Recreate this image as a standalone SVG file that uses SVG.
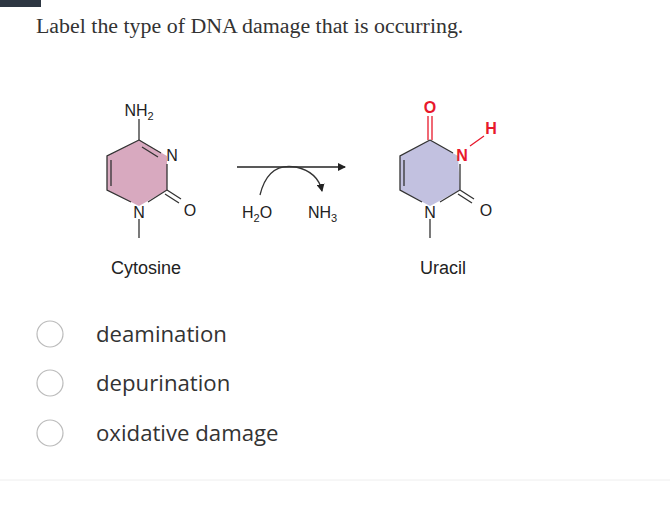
<svg xmlns="http://www.w3.org/2000/svg" width="670" height="506" viewBox="0 0 670 506">
<style>
.b{stroke:#333;stroke-width:1.3;fill:none}
.t{font-family:"Liberation Sans",Arial,sans-serif;font-size:16px;fill:#222}
.r{fill:#e8192c}
.opt{font-family:"Open Sans","Liberation Sans",sans-serif;font-size:22.2px;fill:#333}
.rad{fill:#fff;stroke:#bbb;stroke-width:1.2}
.lab{font-family:"Liberation Sans",Arial,sans-serif;font-size:18px;fill:#222}
</style>
<defs><marker id="ah" markerWidth="8" markerHeight="8" refX="7" refY="4" orient="auto" markerUnits="userSpaceOnUse"><path d="M0,0 L8,4 L0,8 Z" fill="#222"/></marker></defs>
<rect width="670" height="506" fill="#fff"/>
<rect x="0" y="0" width="41" height="7" fill="#2d3742"/>
<text x="36" y="33" font-family="Liberation Serif,serif" font-size="21.9" fill="#333">Label the type of DNA damage that is occurring.</text>
<g id="cytosine">
<polygon points="139,140 167,156 167,190 139,206 107,190 107,156" fill="#d8a9bf"/>
<path class="b" d="M139,140 L161,153 M167,164 L167,190 L148,202 M131,202 L107,190 L107,156 L139,140 M111,160 L111,186 M158,157 L142,147"/>
<path class="b" d="M139,140 V119 M167,190 L181,199 M165,194 L179,203 M139,219 V238"/>
<text class="t" x="139" y="116" text-anchor="middle">NH<tspan font-size="11" dy="4">2</tspan></text>
<text class="t" x="172" y="161" text-anchor="middle">N</text>
<text class="t" x="139" y="218" text-anchor="middle">N</text>
<text class="t" x="190" y="216" text-anchor="middle">O</text>
<text class="lab" x="146" y="274" text-anchor="middle">Cytosine</text>
</g>
<g id="uracil">
<polygon points="430,140 458,156 460,190 430,206 400,190 400,156" fill="#c2c1e0"/>
<path class="b" d="M430,140 L453,153 M460,164 L460,190 L440,202 M422,202 L400,190 L400,156 L430,140 M404,160 L404,186 M460,190 L474,199 M458,194 L472,203 M430,219 V238"/>
<path d="M428,140 V116 M432,140 V116 M470,146 L484,136" stroke="#e8192c" stroke-width="1.3"/>
<text class="t r" x="430" y="113" text-anchor="middle" font-weight="bold">O</text>
<text class="t r" x="462" y="161" text-anchor="middle" font-weight="bold">N</text>
<text class="t r" x="491" y="134" text-anchor="middle" font-weight="bold">H</text>
<text class="t" x="430" y="218" text-anchor="middle">N</text>
<text class="t" x="486" y="216" text-anchor="middle">O</text>
<text class="lab" x="443" y="274" text-anchor="middle">Uracil</text>
</g>
<g id="connectors">
<line x1="237" y1="167" x2="345" y2="167" stroke="#222" stroke-width="1.3" marker-end="url(#ah)"/>
<path d="M260,195 Q268,162 296,167 Q318,172 322,191" class="b" marker-end="url(#ah)"/>
</g>
<text class="t" x="242" y="218">H<tspan font-size="11" dy="4">2</tspan><tspan dy="-4">O</tspan></text>
<text class="t" x="308" y="218">NH<tspan font-size="11" dy="4">3</tspan></text>
<g id="options">
<circle class="rad" cx="50" cy="334" r="13"/>
<circle class="rad" cx="50" cy="383" r="13"/>
<circle class="rad" cx="50" cy="433" r="13"/>
<text class="opt" x="96" y="342">deamination</text>
<text class="opt" x="96" y="391">depurination</text>
<text class="opt" x="96" y="441">oxidative damage</text>
</g>
<line x1="0" y1="480" x2="670" y2="480" stroke="#eee"/>
</svg>
